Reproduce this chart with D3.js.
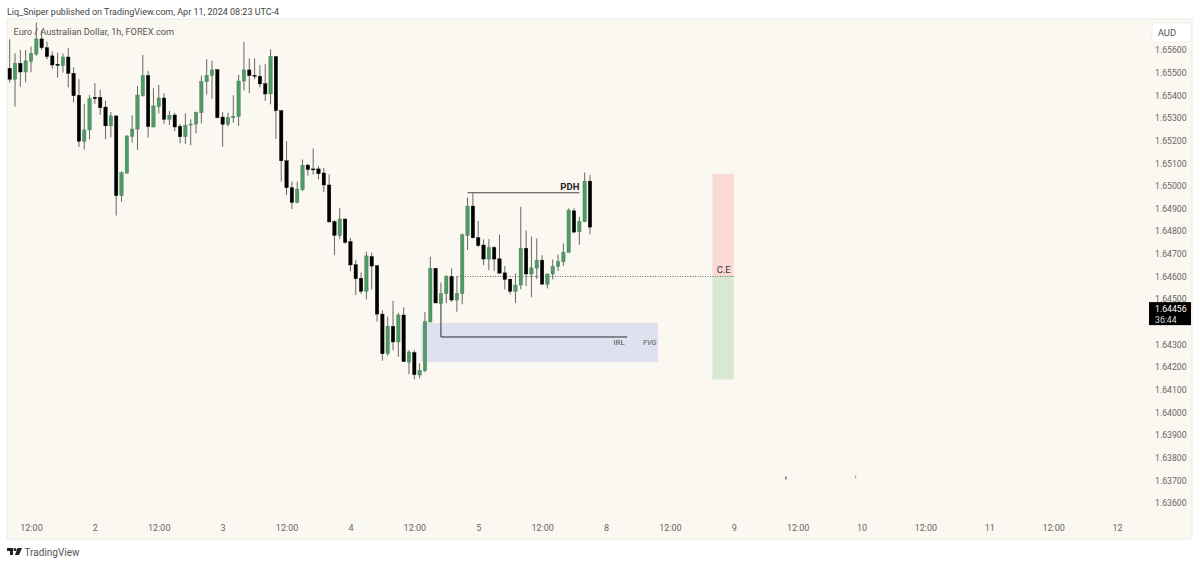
<!DOCTYPE html>
<html>
<head>
<meta charset="utf-8">
<script src="https://d3js.org/d3.v7.min.js"></script>
<style>
  html, body { margin: 0; padding: 0; background: #fff; }
  svg { display: block; }
  text { font-family: Roboto, "Open Sans", sans-serif; }
</style>
</head>
<body>
<svg id="chart" width="1200" height="565"></svg>
<script>
// Hourly EURAUD candles
var opens = [1.65519,1.65471,1.65541,1.65503,1.65549,1.65582,1.65649,1.65610,1.65574,1.65537,1.65531,1.65569,1.65497,1.65400,1.65197,1.65247,1.65391,1.65391,1.65348,1.65265,
  1.65309,1.64957,1.65056,1.65219,1.65251,1.65398,1.65487,1.65260,1.65350,1.65388,1.65294,1.65313,1.65263,1.65217,1.65269,1.65273,1.65323,1.65460,1.65488,1.65513,
  1.65304,1.65272,1.65301,1.65306,1.65463,1.65512,1.65488,1.65484,1.65451,1.65406,1.65571,1.65332,1.65111,1.64992,1.64927,1.64983,1.65092,1.65075,1.65075,1.65057,
  1.65004,1.64842,1.64780,1.64854,1.64754,1.64652,1.64592,1.64535,1.64688,1.64648,1.64434,1.64259,1.64380,1.64311,1.64430,1.64222,1.64264,1.64165,1.64184,1.64399,
  1.64636,1.64481,1.64524,1.64600,1.64496,1.64524,1.64781,1.64911,1.64771,1.64739,1.64677,1.64728,1.64678,1.64616,1.64588,1.64535,1.64562,1.64724,1.64611,1.64637,
  1.64672,1.64566,1.64611,1.64644,1.64665,1.64706,1.64890,1.64797,1.64842,1.65021];
var highs = [1.65647,1.65585,1.65600,1.65600,1.65615,1.65721,1.65688,1.65637,1.65593,1.65588,1.65585,1.65608,1.65524,1.65471,1.65362,1.65401,1.65454,1.65424,1.65375,1.65326,
  1.65309,1.65064,1.65225,1.65312,1.65441,1.65578,1.65507,1.65431,1.65446,1.65409,1.65331,1.65323,1.65273,1.65320,1.65294,1.65328,1.65487,1.65559,1.65552,1.65515,
  1.65326,1.65323,1.65400,1.65491,1.65635,1.65563,1.65563,1.65534,1.65537,1.65603,1.65571,1.65335,1.65197,1.65019,1.65019,1.65117,1.65097,1.65165,1.65088,1.65079,
  1.65051,1.64850,1.64903,1.64854,1.64771,1.64673,1.64618,1.64710,1.64705,1.64648,1.64451,1.64423,1.64493,1.64440,1.64464,1.64275,1.64275,1.64217,1.64443,1.64687,
  1.64636,1.64574,1.64606,1.64636,1.64602,1.64790,1.64949,1.64967,1.64845,1.64764,1.64765,1.64734,1.64784,1.64646,1.64591,1.64613,1.64908,1.64803,1.64777,1.64768,
  1.64694,1.64613,1.64675,1.64697,1.64746,1.64901,1.64901,1.64864,1.65059,1.65048];
var lows = [1.65456,1.65350,1.65438,1.65457,1.65502,1.65574,1.65600,1.65559,1.65519,1.65478,1.65500,1.65435,1.65368,1.65172,1.65160,1.65206,1.65362,1.65313,1.65206,1.65214,
  1.64869,1.64930,1.65056,1.65191,1.65159,1.65394,1.65214,1.65259,1.65320,1.65273,1.65269,1.65241,1.65188,1.65185,1.65179,1.65232,1.65276,1.65403,1.65384,1.65298,
  1.65173,1.65262,1.65279,1.65265,1.65421,1.65409,1.65471,1.65434,1.65375,1.65360,1.65207,1.65019,1.64960,1.64898,1.64923,1.64978,1.65045,1.65050,1.65029,1.64972,
  1.64838,1.64695,1.64766,1.64744,1.64623,1.64518,1.64523,1.64499,1.64543,1.64401,1.64228,1.64250,1.64275,1.64245,1.64224,1.64169,1.64146,1.64150,1.64177,1.64399,
  1.64483,1.64481,1.64483,1.64488,1.64444,1.64477,1.64717,1.64768,1.64731,1.64650,1.64628,1.64625,1.64611,1.64543,1.64521,1.64483,1.64543,1.64558,1.64509,1.64588,
  1.64566,1.64547,1.64587,1.64624,1.64647,1.64706,1.64793,1.64740,1.64840,1.64786];
var closes = [1.65471,1.65541,1.65503,1.65552,1.65585,1.65649,1.65610,1.65571,1.65534,1.65532,1.65569,1.65497,1.65398,1.65197,1.65247,1.65385,1.65385,1.65345,1.65265,1.65309,
  1.64957,1.65058,1.65220,1.65251,1.65401,1.65487,1.65262,1.65353,1.65388,1.65294,1.65312,1.65260,1.65217,1.65267,1.65273,1.65325,1.65460,1.65488,1.65512,1.65301,
  1.65272,1.65301,1.65307,1.65463,1.65512,1.65487,1.65484,1.65450,1.65406,1.65571,1.65332,1.65111,1.64992,1.64927,1.64986,1.65091,1.65072,1.65072,1.65054,1.65004,
  1.64841,1.64782,1.64854,1.64751,1.64651,1.64590,1.64535,1.64691,1.64646,1.64434,1.64259,1.64381,1.64311,1.64430,1.64224,1.64267,1.64167,1.64186,1.64401,1.64636,
  1.64483,1.64524,1.64600,1.64496,1.64525,1.64784,1.64911,1.64771,1.64737,1.64677,1.64728,1.64677,1.64615,1.64587,1.64535,1.64562,1.64724,1.64611,1.64638,1.64672,
  1.64566,1.64611,1.64644,1.64666,1.64706,1.64893,1.64796,1.64842,1.65021,1.64818];

// Axis labels
var priceTicks = [1.656,1.655,1.654,1.653,1.652,1.651,1.650,1.649,1.648,1.647,1.646,1.645,1.643,1.642,1.641,1.640,1.639,1.638,1.637,1.636];
var timeTickLabels = ["12:00","2","12:00","3","12:00","4","12:00","5","12:00","8","12:00","9","12:00","10","12:00","11","12:00","12"];
var timeTickBars = [4,16,28,40,52,64,76,88,100,112,124,136,148,160,172,184,196,208];

// Drawn levels and zones, as price and bar position
var lastPrice = 1.64456, lastCountdown = "36:44";
var pdhLevel = 1.6497, pdhBars = [86, 107];
var fvgZone = [1.64395, 1.64222], fvgBars = [77.3, 121.8];
var irlLevel = 1.64333, irlBars = [81, 116];
var ceLevel = 1.64602, ceBars = [84.1, 136];
var premiumZone = [1.65053, 1.64602], discountZone = [1.64602, 1.64145], zoneBars = [132, 136];
var strayMarks = [1.6371, 1.63715], strayBars = [145.8, 158.9];

var svg = d3.select("#chart");

var x = d3.scaleLinear().domain([0, 109]).range([9.7, 590]);
var y = d3.scaleLinear().domain([1.656, 1.636]).range([50, 503]);

// Chart panel
svg.append("rect").attr("x", 7).attr("y", 19).attr("width", 1185).attr("height", 520)
  .attr("fill", "#fbf8f1").attr("stroke", "#eceae5");

// Zones behind the candles
function zone(prices, bars, color) {
  svg.append("rect")
    .attr("x", x(bars[0])).attr("width", x(bars[1]) - x(bars[0]))
    .attr("y", y(prices[0])).attr("height", y(prices[1]) - y(prices[0]))
    .attr("fill", color);
}
zone(fvgZone, fvgBars, "#dfe1ee");
zone(premiumZone, zoneBars, "#fbd9d4");
zone(discountZone, zoneBars, "#d9e8d3");

// C.E dotted level
svg.append("line")
  .attr("x1", x(ceBars[0])).attr("x2", x(ceBars[1]))
  .attr("y1", Math.round(y(ceLevel)) + 0.5).attr("y2", Math.round(y(ceLevel)) + 0.5)
  .attr("stroke", "#66665a").attr("stroke-dasharray", "1 1.5");

// Candles
var bars = d3.range(opens.length);
var candle = svg.append("g").selectAll("g").data(bars).join("g");
candle.append("line")
  .attr("x1", i => x(i)).attr("x2", i => x(i))
  .attr("y1", i => y(highs[i])).attr("y2", i => y(lows[i]))
  .attr("stroke", "#666").attr("stroke-width", 1);
candle.append("rect")
  .attr("x", i => x(i) - 1.7).attr("width", 3.4)
  .attr("y", i => y(Math.max(opens[i], closes[i])))
  .attr("height", i => Math.max(1, Math.abs(y(opens[i]) - y(closes[i]))))
  .attr("fill", i => closes[i] >= opens[i] ? "#4f9a66" : "#000")
  .attr("stroke", i => closes[i] >= opens[i] ? "#3c7a4f" : "#000")
  .attr("stroke-width", 0.4);

// PDH
svg.append("line")
  .attr("x1", x(pdhBars[0])).attr("x2", x(pdhBars[1]))
  .attr("y1", y(pdhLevel)).attr("y2", y(pdhLevel))
  .attr("stroke", "#444").attr("stroke-width", 1.1);
svg.append("text").attr("x", x(pdhBars[1])).attr("y", 189.5)
  .attr("text-anchor", "end").attr("font-size", 9.5).attr("font-weight", 700)
  .attr("fill", "#222").text("PDH");

// IRL
svg.append("path")
  .attr("d", "M" + x(irlBars[0]) + "," + y(lows[81]) + "V" + y(irlLevel) + "H" + x(irlBars[1]))
  .attr("fill", "none").attr("stroke", "#2b2f3a").attr("stroke-width", 1);
svg.append("text").attr("x", x(irlBars[1]) - 2.5).attr("y", 345)
  .attr("text-anchor", "end").attr("font-size", 8).attr("fill", "#555").text("IRL");
svg.append("text").attr("x", x(fvgBars[1]) - 1.5).attr("y", 345)
  .attr("text-anchor", "end").attr("font-size", 7.6).attr("font-style", "italic")
  .attr("fill", "#555").text("FVG");
svg.append("text").attr("x", x(ceBars[1]) - 3).attr("y", 273)
  .attr("text-anchor", "end").attr("font-size", 9.5).attr("fill", "#333").text("C.E");

// Two tiny ticks on the empty right side
svg.append("g").selectAll("line").data(strayMarks).join("line")
  .attr("x1", (d, i) => x(strayBars[i])).attr("x2", (d, i) => x(strayBars[i]))
  .attr("y1", d => y(d) - 1.5).attr("y2", d => y(d) + 1.5)
  .attr("stroke", "#333").attr("stroke-opacity", (d, i) => i ? 0.5 : 1);

// Axes
var priceAxis = d3.axisRight(y).tickValues(priceTicks).tickSize(0).tickPadding(0)
  .tickFormat(d3.format(".5f"));
svg.append("g").attr("transform", "translate(1155,0)").call(priceAxis)
  .call(g => g.select(".domain").remove())
  .call(g => g.selectAll("text").attr("font-size", 8.7).attr("fill", "#666")
    .style("font-family", "Roboto, sans-serif"));

var timeAxis = d3.axisBottom(x).tickValues(timeTickBars).tickSize(0).tickPadding(0)
  .tickFormat((d, i) => timeTickLabels[i]);
svg.append("g").attr("transform", "translate(0,525)").call(timeAxis)
  .call(g => g.select(".domain").remove())
  .call(g => g.selectAll("text").attr("font-size", 9).attr("fill", "#666")
    .style("font-family", "Roboto, sans-serif"));

// AUD currency button
svg.append("rect").attr("x", 1152).attr("y", 23).attr("width", 39).attr("height", 19)
  .attr("rx", 2).attr("fill", "#fff").attr("stroke", "#f1efea");
svg.append("text").attr("x", 1167).attr("y", 35.5).attr("text-anchor", "middle")
  .attr("font-size", 9.5).attr("fill", "#555").text("AUD");

// Last price tag
svg.append("rect").attr("x", 1149).attr("y", y(lastPrice) - 7).attr("width", 42).attr("height", 23)
  .attr("fill", "#000");
svg.append("text").attr("x", 1155).attr("y", y(lastPrice) + 3)
  .attr("font-size", 8.7).attr("fill", "#fff").text(d3.format(".5f")(lastPrice));
svg.append("text").attr("x", 1155).attr("y", y(lastPrice) + 13.5)
  .attr("font-size", 8.7).attr("fill", "#ddd").text(lastCountdown);

// Headers
svg.append("text").attr("x", 7).attr("y", 14.5).attr("font-size", 9).attr("fill", "#444")
  .text("Liq_Sniper published on TradingView.com, Apr 11, 2024 08:23 UTC-4");
svg.append("text").attr("x", 13.5).attr("y", 34.5).attr("font-size", 9.2).attr("fill", "#555")
  .text("Euro / Australian Dollar, 1h, FOREX.com");

// TradingView logo and name
var logo = svg.append("g").attr("transform", "translate(7,548)").attr("fill", "#222");
logo.append("path").attr("d", "M0,0H6V7H3V3H0Z");
logo.append("circle").attr("cx", 8).attr("cy", 1.5).attr("r", 1.5);
logo.append("path").attr("d", "M10.5,0H15L12,7H8Z");
svg.append("text").attr("x", 24.5).attr("y", 555.5).attr("font-size", 10).attr("fill", "#555")
  .text("TradingView");
</script>
</body>
</html>
